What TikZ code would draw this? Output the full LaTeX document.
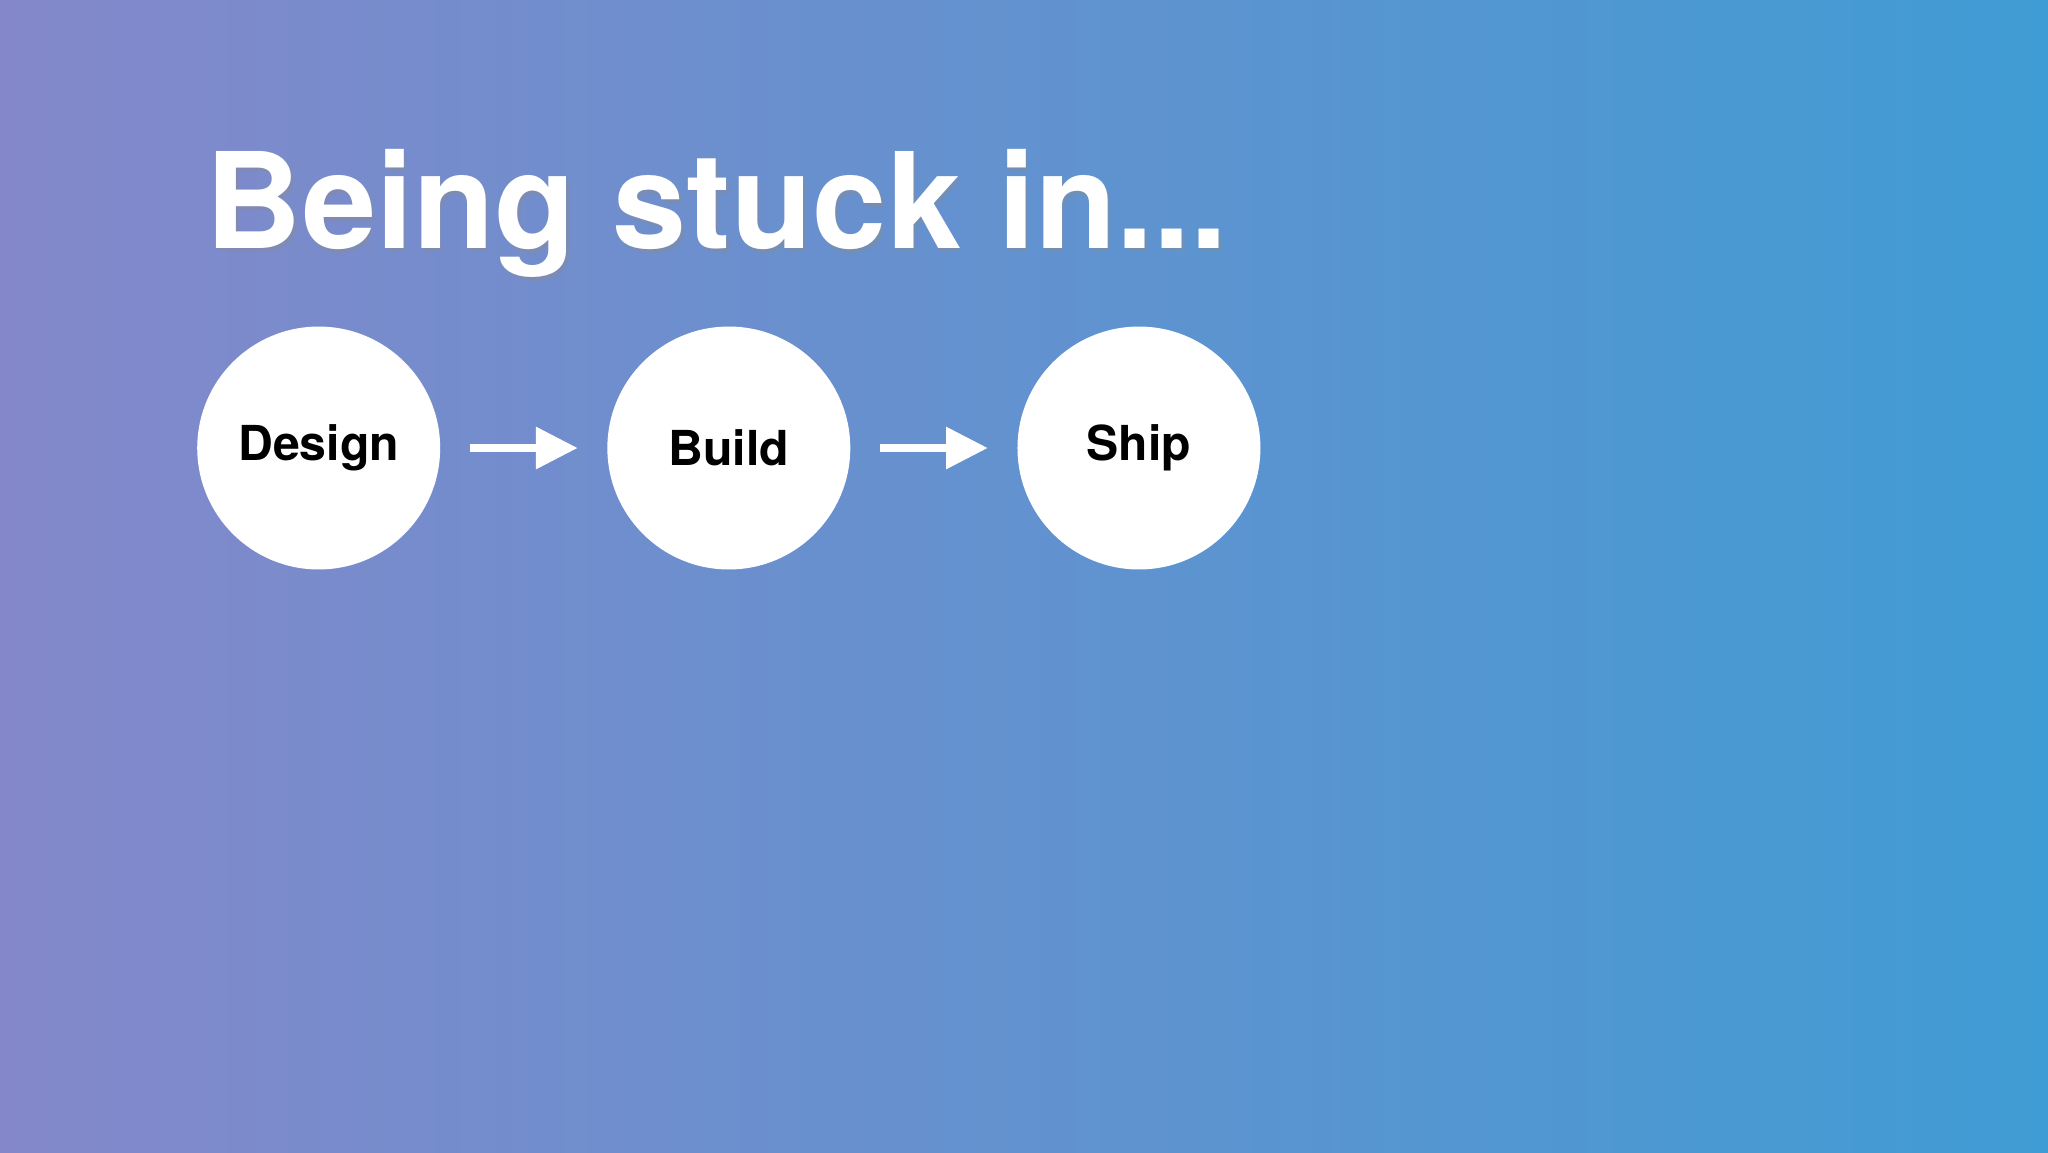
\documentclass[tikz,border=0pt]{standalone}
\usepackage{fontspec}
\setmainfont{TeX Gyre Heros}
\usetikzlibrary{arrows.meta}
\definecolor{leftc}{RGB}{132,136,202}
\definecolor{rightc}{RGB}{64,156,212}
\tikzset{
  stage/.style={circle,fill=white,minimum size=1.86cm,inner sep=0pt,font=\bfseries\fontsize{10.5pt}{12pt}\selectfont,text=black},
  flow/.style={white,line width=0.06cm,-{Triangle[length=0.32cm,width=0.31cm]},shorten <=0.22cm,shorten >=0.22cm}
}
\begin{document}
\begin{tikzpicture}
\shade[left color=leftc,right color=rightc] (0,0) rectangle (15.68,8.82);
\useasboundingbox (0,0) rectangle (15.68,8.82);
\node[anchor=base west,inner sep=0pt,text=black!45,opacity=0.35,font=\bfseries\fontsize{29pt}{34pt}\selectfont] at (1.59,6.89) {Being stuck in...};
\node (title)[anchor=base west,inner sep=0pt,text=white,font=\bfseries\fontsize{29pt}{34pt}\selectfont] at (1.57,6.92) {Being stuck in...};
\node (d)[stage] at (2.44,5.39) {Design};
\node (b)[stage] at (5.58,5.39) {Build};
\node (s)[stage] at (8.72,5.39) {Ship};
\draw[flow] (d) -- (b);
\draw[flow] (b) -- (s);
\end{tikzpicture}
\end{document}
